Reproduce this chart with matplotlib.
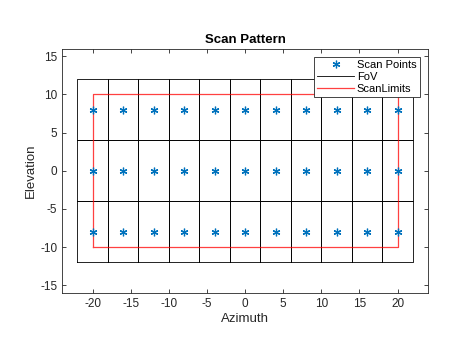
import matplotlib.pyplot as plt
import numpy as np

plt.rcParams['font.family'] = ['Liberation Sans', 'DejaVu Sans']
plt.rcParams['axes.unicode_minus'] = False

# scan grid
azimuth = [-20, -16, -12, -8, -4, 0, 4, 8, 12, 16, 20]
elevation = [-8, 0, 8]
fov_width = 4
fov_height = 8
az_limits = [-20, 20]
el_limits = [-10, 10]
x_ticks = [-20, -15, -10, -5, 0, 5, 10, 15, 20]
y_ticks = [-15, -10, -5, 0, 5, 10, 15]

axcol = '#262626'

fig = plt.figure(figsize=(4.74, 3.55), dpi=100)
ax = fig.add_axes([0.131, 0.175, 0.772, 0.688])

az, el = np.meshgrid(azimuth, elevation)
# matlab-style asterisk marker
ax.plot(az.ravel(), el.ravel(), linestyle='none', marker=(6, 2, 0), color='#0072BD',
        markersize=5.5, markeredgewidth=0.9, label='Scan Points', zorder=3)

# one FoV box around every scan point
first = True
for e in elevation:
    for a in azimuth:
        x0, x1 = a - fov_width / 2, a + fov_width / 2
        y0, y1 = e - fov_height / 2, e + fov_height / 2
        ax.plot([x0, x1, x1, x0, x0], [y0, y0, y1, y1, y0], color='black', lw=0.6,
                label='FoV' if first else None, zorder=1)
        first = False

ax.plot([az_limits[0], az_limits[1], az_limits[1], az_limits[0], az_limits[0]],
        [el_limits[0], el_limits[0], el_limits[1], el_limits[1], el_limits[0]],
        color='#FF0000', lw=0.9, alpha=0.75, label='ScanLimits', zorder=2)

ax.set_xlim(-24, 24)
ax.set_ylim(-16, 16)
ax.set_xticks(x_ticks)
ax.set_yticks(y_ticks)
ax.tick_params(direction='in', top=True, right=True, labelsize=8.5, colors=axcol,
               length=3, width=0.6)
for s in ax.spines.values():
    s.set_color(axcol)
    s.set_linewidth(0.6)

ax.set_xlabel('Azimuth', fontsize=9.5, color=axcol, labelpad=2)
ax.set_ylabel('Elevation', fontsize=9.5, color=axcol, labelpad=2)
ax.set_title('Scan Pattern', fontsize=9.5, fontweight='bold', pad=4)

leg = ax.legend(loc='upper right', fontsize=8, fancybox=False, framealpha=1,
                edgecolor=axcol, borderpad=0.3, labelspacing=0.15, handlelength=3.3,
                handletextpad=0.25, borderaxespad=0.75)
leg.get_frame().set_linewidth(0.6)

fig.savefig('out.png', dpi=100)
